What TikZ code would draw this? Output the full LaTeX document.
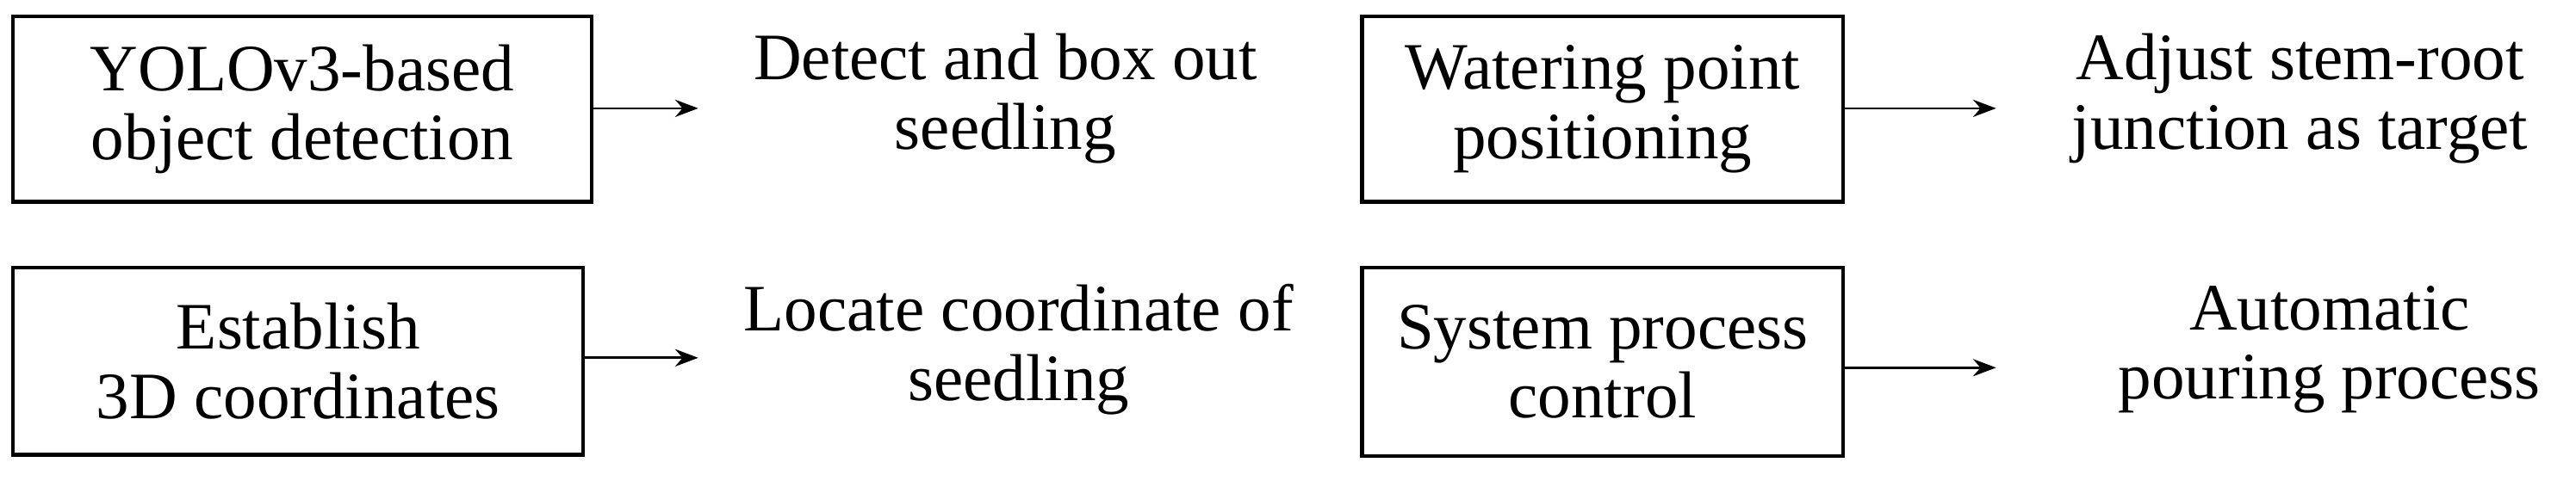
\documentclass[tikz,border=0pt]{standalone}
\usepackage{fontspec}
\setmainfont{Liberation Serif}
\usetikzlibrary{arrows.meta}
\begin{document}
\begin{tikzpicture}[x=0.02cm,y=-0.02cm,
  box/.style={draw,line width=1.3pt,align=center,inner sep=0pt},
  lbl/.style={align=center,font=\fontsize{23}{24}\selectfont},
  arr/.style={-{Stealth[length=8pt,width=6pt]},line width=0.8pt}]
\useasboundingbox (0,0) rectangle (1568,293);
\node[box,lbl,minimum width=352*0.02cm,minimum height=113*0.02cm] (b1) at (184,66.5) {YOLOv3-based\\object detection};
\node[box,lbl,minimum width=347*0.02cm,minimum height=114*0.02cm] (b2) at (181.5,220) {Establish\\3D coordinates};
\node[box,lbl,minimum width=293*0.02cm,minimum height=113*0.02cm] (b3) at (975.5,66.5) {Watering point\\positioning};
\node[box,lbl,minimum width=293*0.02cm,minimum height=115*0.02cm] (b4) at (975.5,220.5) {System process\\control};
\node[lbl] (t1) at (612,60) {Detect and box out\\seedling};
\node[lbl] (t2) at (620,213) {Locate coordinate of\\seedling};
\node[lbl] (t3) at (1400,60) {Adjust stem-root\\junction as target};
\node[lbl] (t4) at (1418,213) {Automatic\\pouring process};
\coordinate (a1) at (425,66);
\coordinate (a2) at (425,218);
\coordinate (a3) at (1215,66);
\coordinate (a4) at (1215,224);
\draw[arr] (b1.east |- a1) -- (a1);
\draw[arr] (b2.east |- a2) -- (a2);
\draw[arr] (b3.east |- a3) -- (a3);
\draw[arr] (b4.east |- a4) -- (a4);
\end{tikzpicture}
\end{document}
